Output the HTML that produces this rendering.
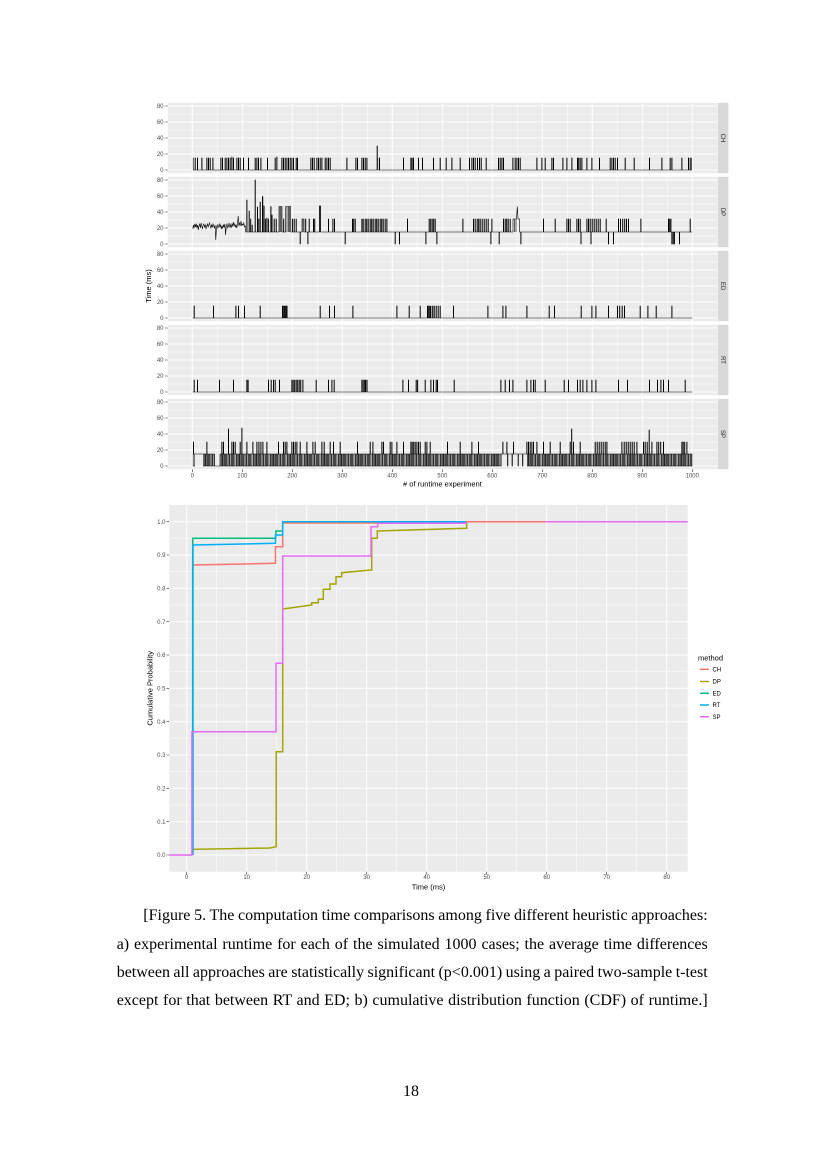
<!DOCTYPE html>
<html><head><meta charset="utf-8">
<style>
html,body{margin:0;padding:0;background:#fff;}
body{width:826px;height:1169px;position:relative;overflow:hidden;}
svg{position:absolute;left:0;top:0;}
.cap{position:absolute;font-family:"Liberation Serif","Times New Roman",serif;font-size:16px;line-height:20px;color:#000;text-align:justify;text-align-last:justify;word-spacing:-1.5px;}
</style></head>
<body>
<svg width="826" height="1169" viewBox="0 0 826 1169" xmlns="http://www.w3.org/2000/svg" font-family="Liberation Sans, Arial, sans-serif">
<defs>
<g id="tg">
<rect x="0" y="0" width="549.2" height="70.4" fill="#EBEBEB"/>
<path d="M49.5 0V70.4M99.5 0V70.4M149.5 0V70.4M199.5 0V70.4M249.5 0V70.4M299.5 0V70.4M349.5 0V70.4M399.5 0V70.4M449.5 0V70.4M499.5 0V70.4M0 59.2H549.2M0 43.2H549.2M0 27.2H549.2M0 11.2H549.2" stroke="#fff" stroke-width="0.5" fill="none"/>
<path d="M24.5 0V70.4M74.5 0V70.4M124.5 0V70.4M174.5 0V70.4M224.5 0V70.4M274.5 0V70.4M324.5 0V70.4M374.5 0V70.4M424.5 0V70.4M474.5 0V70.4M524.5 0V70.4M0 67.2H549.2M0 51.2H549.2M0 35.2H549.2M0 19.2H549.2M0 3.2H549.2" stroke="#fff" stroke-width="1" fill="none"/>
<path d="M-3 67.2H0M-3 51.2H0M-3 35.2H0M-3 19.2H0M-3 3.2H0" stroke="#333" stroke-width="0.6"/>
<g font-size="6" fill="#4D4D4D" text-anchor="end">
<text x="-4.3" y="69.3">0</text><text x="-4.3" y="53.3">20</text><text x="-4.3" y="37.3">40</text><text x="-4.3" y="21.3">60</text><text x="-4.3" y="5.3">80</text>
</g>
<rect x="549.8" y="0" width="10.8" height="70.4" fill="#D9D9D9"/>
</g>
<pattern id="vl" x="0" y="0" width="17" height="40" patternUnits="userSpaceOnUse">
<path d="M0.3 0V40M1.4 0V40M2.2 0V40M3.5 0V40M4.6 0V40M5.4 0V40M6.9 0V40M8.1 0V40M9 0V40M10.4 0V40M11.6 0V40M12.5 0V40M13.9 0V40M15.3 0V40M16.2 0V40" stroke="#000" stroke-width="0.7"/>
</pattern>
</defs>

<!-- TOP FACET CHART -->
<use href="#tg" x="167.8" y="102.8"/>
<use href="#tg" x="167.8" y="176.8"/>
<use href="#tg" x="167.8" y="250.8"/>
<use href="#tg" x="167.8" y="324.8"/>
<use href="#tg" x="167.8" y="398.8"/>

<g font-size="6" fill="#1A1A1A" text-anchor="middle">
<text transform="translate(720.9,138) rotate(90)">CH</text>
<text transform="translate(720.9,212) rotate(90)">DP</text>
<text transform="translate(720.9,286) rotate(90)">ED</text>
<text transform="translate(720.9,360) rotate(90)">RT</text>
<text transform="translate(720.9,434) rotate(90)">SP</text>
</g>

<path d="M192.3 469.2V472M242.3 469.2V472M292.3 469.2V472M342.3 469.2V472M392.3 469.2V472M442.3 469.2V472M492.3 469.2V472M542.3 469.2V472M592.3 469.2V472M642.3 469.2V472M692.3 469.2V472" stroke="#333" stroke-width="0.6"/>
<g font-size="6" fill="#4D4D4D" text-anchor="middle">
<text x="192.3" y="477.4">0</text><text x="242.3" y="477.4">100</text><text x="292.3" y="477.4">200</text><text x="342.3" y="477.4">300</text><text x="392.3" y="477.4">400</text><text x="442.3" y="477.4">500</text><text x="492.3" y="477.4">600</text><text x="542.3" y="477.4">700</text><text x="592.3" y="477.4">800</text><text x="642.3" y="477.4">900</text><text x="692.3" y="477.4">1000</text>
</g>
<text x="442.4" y="486.3" font-size="7.5" text-anchor="middle" fill="#000"># of runtime experiment</text>
<text transform="translate(150.8,286) rotate(-90)" font-size="7.5" text-anchor="middle" fill="#000">Time (ms)</text>

<g fill="none" stroke="#000" stroke-width="0.6">
<!-- CH -->
<path d="M192.8 158h0.4V170H195V158h0.4V170H197.3V158h0.4V170H201.7V158h0.4V170H206.7V158h0.4V170H208.3V158h0.4V170H210V158h0.4V170H212.7V158h0.4V170H220.7V158h0.4V170H222.3V158h0.4V170H225V158h0.4V170H226.7V158h0.4V170H228.3V158h0.4V170H230V158h0.4V170H231.7V157h0.4V170H233.3V158h0.4V170H236.7V158h0.4V170H238.3V158h0.4V170H240V158h0.4V170H243.3V158h0.4V170H248.3V158h0.4V170H255V158h0.4V170H256.7V158h0.4V170H258.3V158h0.4V170H260.7V158h0.4V170H267.3V158h0.4V170H275V158h0.4V170H276.7V157h0.4V170H281.7V158h0.4V170H283.3V158h0.4V170H285V158h0.4V170H286.7V158h0.4V170H288.3V158h0.4V170H290V158h0.4V170H291.7V158h0.4V170H293.3V158h0.4V170H296V158h0.4V170H297.3V158h0.4V170H310.7V158h0.4V170H312.3V158h0.4V170H314V158h0.4V170H316.7V158h0.4V170H318.3V158h0.4V170H320V158h0.4V170H321.7V158h0.4V170H325V158h0.4V170H326.7V158h0.4V170H328.3V158h0.4V170H330V158h0.4V170H346.7V158h0.4V170H355.7V158h0.4V170H357.3V158h0.4V170H361.7V158h0.4V170H363.3V158h0.4V170H365V158h0.4V170H366.7V158h0.4V170H377V146h0.4V158h0.4V170H379.3V158h0.4V170H403.3V158h0.4V170H410.7V158h0.4V170H411.9V158h0.4V170H413.3V158h0.4V170H418.3V158h0.4V170H422.3V158h0.4V170H433.3V158h0.4V170H440V158h0.4V170H446V158h0.4V170H451.7V158h0.4V170H460V158h0.4V170H469.3V158h0.4V170H471.7V158h0.4V170H473.3V158h0.4V170H475V158h0.4V170H477.3V158h0.4V170H479.3V158h0.4V170H481V158h0.4V170H486V158h0.4V170H498.3V158h0.4V170H500V158h0.4V170H501.7V158h0.4V170H503.3V158h0.4V170H512.7V158h0.4V170H515V158h0.4V170H516.7V158h0.4V170H518.3V158h0.4V170H520V158h0.4V170H536.7V158h0.4V170H541.7V158h0.4V170H545V158h0.4V170H551.7V158h0.4V170H553.3V158h0.4V170H562.7V158h0.4V170H566.7V158h0.4V170H571.7V158h0.4V170H577.3V158h0.4V170H578.5V158h0.4V170H580V158h0.4V170H581.7V158h0.4V170H586.7V158h0.4V170H591.7V158h0.4V170H599.3V158h0.4V170H610V158h0.4V170H611.7V158h0.4V170H613.3V158h0.4V170H615V158h0.4V170H617.3V158h0.4V170H625V158h0.4V170H634V158h0.4V170H649.3V158h0.4V170H661.7V158h0.4V170H670V158h0.4V170H671.7V158h0.4V170H681.7V158h0.4V170H688.3V158h0.4V170H690V158h0.4V170H691.6V158h0.4"/>
<!-- DP -->
<path d="M192.8 229L193.4 225L194.1 228L194.8 224L195.5 227L196.2 223.5L196.9 228L197.6 225L198.3 230L199 226L199.7 224L200.4 228L201.1 223L201.8 226L202.5 229L203.2 225L203.9 224L204.6 227L205.3 225L206 229L206.7 226L207.4 224L208.1 227L208.8 225L209.5 223L210.2 226L210.9 228L211.6 225L212.3 227L213 224L213.7 226L214.4 228L215.1 225L215.8 240L216.5 227L217.2 225L217.9 228L218.6 226L219.3 224L220 227L220.7 225L221.4 229L222.1 226L222.8 228L223.5 225L224.2 227L224.9 224L225.6 235L226.3 226L227 224L227.7 228L228.4 226L229.1 223L229.8 227L230.5 225L231.2 228L231.9 224L232.6 226L233.3 222L234 226L234.7 224L235.4 227L236.1 225L236.8 228L237.5 224L238.2 216L238.9 226L239.6 223L240.3 225L241 221L241.7 226L242.4 224L243.1 225L243.8 223L244.5 227L245.2 226L245.8 232H246.7V200h0.4V232H249V211h0.4V232H250.5V219h0.4V232H252V225h0.4V232H255V180h0.4V232H257.3V207h0.4V232H258.6V219h0.4V232H260V202h0.4V232H262.3V196.5h0.6V232H263.8V206h0.4V232H265.2V219h0.4V232H266.7V218h0.4V232H268.2V219h0.4V232H270.7V206.5h0.4V232H271.8V215h0.4V232H274V219h0.4V232H276V219h0.4V232H279V206.5H282V232H283.5V219h0.4V232H285.7V206.5H290.7V232H292.2V219h0.4V232H294V219h0.4V232H296V219h0.4V232H300V244h0.4V232H302V219H304V232H305.5V219h0.4V232H307.7V244h0.4V232H309V219h0.4V232H313.3V219h0.4V232H314.5V219h0.4V232H319.3V206H320.7V232H328.3V219h0.4V232H332.7V219h0.4V232H334.3V219h0.4V232H345V244h0.4V232H352.3V219h0.4V232H353.5V219h0.4V232H355V219h0.4V232H361.7V219h0.4V232H363V219h0.4V232H365V219h0.4V232H366.5V219h0.4V232H368V219h0.4V232H370V219h0.4V232H371.5V219h0.4V232H373V219h0.4V232H375V219h0.4V232H376.5V219h0.4V232H378V219h0.4V232H380V219h0.4V232H381.5V219h0.4V232H383V219h0.4V232H385V219h0.4V232H386.7V219h0.4V232H395V244h0.4V232H399.3V244h0.4V232H407.3V219h0.4V232H425.7V244h0.4V232H429V219h0.4V232H430.5V219h0.4V232H432V219h0.4V232H433.5V219h0.4V232H435V219h0.4V232H436.7V244h0.4V232H462.7V219h0.4V232H473.3V219h0.4V232H475V219h0.4V232H477V219h0.4V232H478.5V219h0.4V232H480V219h0.4V232H482V219h0.4V232H484V219h0.4V232H486V219h0.4V232H488V219h0.4V232H490.7V244h0.4V232H491.7V219h0.4V232H499V244h0.4V232H503.3V219h0.4V232H505V219h0.4V232H506.5V219h0.4V232H508V219h0.4V232H510V219h0.4V232H513V219H516.5L517.3 206.5L518 219H519.5V232H520.7V244h0.4V232H543.3V219h0.4V232H555V219h0.4V232H566.7V219h0.4V232H568.3V219h0.4V232H570V219h0.4V232H576.7V219h0.4V232H578.3V219h0.4V232H580V219h0.4V232H580.8V244h0.4V232H586.7V219h0.4V232H588.3V219h0.4V232H590V219h0.4V232H590.8V244h0.4V232H592V219h0.4V232H594V219h0.4V232H596V219h0.4V232H598V219h0.4V232H600V219h0.4V232H606V219h0.4V232H608.3V244h0.4V232H613.3V244h0.4V232H618.3V219h0.4V232H620.3V219h0.4V232H622.5V219h0.4V232H624.5V219h0.4V232H626.3V219h0.4V232H628.3V219h0.4V232H640.7V219h0.4V232H668.3V219h0.4V232H669.5V219h0.4V232H670.7V219h0.4V232H671.7V244h0.4V232H673V244h0.4V232H674.2V244h0.4V232H679.3V244h0.4V232H690V219h0.4V232H692.3"/>
<path d="M280 232V206.5M281 232V206.5M287 232V206.5M288.5 232V206.5M289.7 232V206.5M303 232V219M320 232V206M514.5 232V219M516 232V219"/>
<!-- ED -->
<path d="M192.8 318H194V306h0.4V318H213.3V306h0.4V318H235.7V306h0.4V318H238.3V306h0.4V318H244.3V306h0.4V318H260V306h0.4V318H282.3V306h0.4V318H283.5V306h0.4V318H284.6V306h0.4V318H285.7V306h0.4V318H286.8V306h0.4V318H320V306h0.4V318H329.3V306h0.4V318H334.3V306h0.4V318H352.7V306h0.4V318H396.7V306h0.4V318H409V306h0.4V318H420V306h0.4V318H427.3V306h0.4V318H428.5V306h0.4V318H429.7V306h0.4V318H430.6V306h0.4V318H432.5V306h0.4V318H434V306h0.4V318H436V306h0.4V318H438V306h0.4V318H440V306h0.4V318H453.3V306h0.4V318H487.7V306h0.4V318H502.7V306h0.4V318H505.7V306h0.4V318H526.7V306h0.4V318H549V306h0.4V318H554.3V306h0.4V318H581V306h0.4V318H591.7V306h0.4V318H595.7V306h0.4V318H608.3V306h0.4V318H617.3V306h0.4V318H619.5V306h0.4V318H622V306h0.4V318H624.3V306h0.4V318H640V306h0.4V318H647.7V306h0.4V318H656V306h0.4V318H671.7V306h0.4V318H692.3"/>
<!-- RT -->
<path d="M192.8 392H194V380h0.4V392H197.3V380h0.4V392H219.3V380h0.4V392H233.3V380h0.4V392H246.7V380h0.4V392H247.9V380h0.4V392H268.3V380h0.4V392H271V380h0.4V392H273.3V380h0.4V392H275V380h0.4V392H279.3V380h0.4V392H291.7V380h0.4V392H293V380h0.4V392H294.5V380h0.4V392H296V380h0.4V392H297.5V380h0.4V392H299V380h0.4V392H300.5V380h0.4V392H302.7V380h0.4V392H316V380h0.4V392H328.3V380h0.4V392H331.7V380h0.4V392H334V380h0.4V392H361.7V380h0.4V392H363V380h0.4V392H364.5V380h0.4V392H365.4V380h0.4V392H366.8V380h0.4V392H402.7V380h0.4V392H408.3V380h0.4V392H416V380h0.4V392H417.4V380h0.4V392H425V380h0.4V392H430.7V380h0.4V392H433.3V380h0.4V392H436V380h0.4V392H437.3V380h0.4V392H454V380h0.4V392H500.7V380h0.4V392H505V380h0.4V392H509.3V380h0.4V392H512.7V380h0.4V392H526.7V380h0.4V392H530.7V380h0.4V392H533.3V380h0.4V392H535V380h0.4V392H545V380h0.4V392H564V380h0.4V392H568.3V380h0.4V392H577.3V380h0.4V392H580V380h0.4V392H582.7V380h0.4V392H586.7V380h0.4V392H591.7V380h0.4V392H595.7V380h0.4V392H618.3V380h0.4V392H627.3V380h0.4V392H649.3V380h0.4V392H657.3V380h0.4V392H660.7V380h0.4V392H663.3V380h0.4V392H668.3V380h0.4V392H685V380h0.4V392H692.3"/>
</g>
<!-- SP -->
<rect x="192.8" y="454" width="2.2" height="12" fill="url(#vl)"/>
<rect x="203" y="454" width="11.5" height="12" fill="url(#vl)"/>
<rect x="220" y="454" width="281.5" height="12" fill="url(#vl)"/>
<rect x="527" y="454" width="165.3" height="12" fill="url(#vl)"/>
<path d="M192.8 454H214.5M220 454H692.3M192.8 466H195M203 466H501.5M527 466H692.3M214.5 454V466M220 454V466M507.5 454V466h0.4V454M512 454V466h0.4V454M518 454V466h0.4V454M522.5 454V466h0.4V454" fill="none" stroke="#000" stroke-width="0.6"/>
<path fill="none" stroke="#000" stroke-width="0.6" d="M193.3 454V442h0.4V454M206.7 454V442h0.4V454M221.7 454V442h0.4V454M223.3 454V442h0.4V454M228.3 454V429h0.4V454M231.7 454V442h0.4V454M233.3 454V442h0.4V454M235 454V442h0.4V454M240 454V442h0.4V454M241.7 454V428h0.4V454M246.7 454V442h0.4V454M252.7 454V442h0.4V454M256.7 454V442h0.4V454M258.7 454V442h0.4V454M260.7 454V442h0.4V454M262.7 454V442h0.4V454M266.7 454V442h0.4V454M278.3 454V442h0.4V454M283.3 454V442h0.4V454M285 454V442h0.4V454M286.7 454V442h0.4V454M291.7 454V442h0.4V454M293.3 454V442h0.4V454M295 454V442h0.4V454M296.7 454V442h0.4V454M300 454V442h0.4V454M306.7 454V442h0.4V454M312.7 454V442h0.4V454M315 454V442h0.4V454M321.7 454V442h0.4V454M324 454V442h0.4V454M330 454V442h0.4V454M333.3 454V442h0.4V454M340 454V442h0.4V454M357.3 454V442h0.4V454M370 454V442h0.4V454M372.7 454V442h0.4V454M381.7 454V442h0.4V454M383.3 454V442h0.4V454M390 454V442h0.4V454M391.7 454V442h0.4V454M396.7 454V442h0.4V454M403.3 454V442h0.4V454M410.7 454V442h0.4V454M412 454V442h0.4V454M413.5 454V442h0.4V454M415 454V442h0.4V454M416.7 454V442h0.4V454M418.3 454V442h0.4V454M420 454V442h0.4V454M425 454V442h0.4V454M426.7 454V442h0.4V454M430 454V442h0.4V454M447.3 454V442h0.4V454M460 454V442h0.4V454M471.7 454V442h0.4V454M478.3 454V442h0.4V454M502.7 454V442h0.4V454M506.7 454V442h0.4V454M513.3 454V442h0.4V454M526.7 454V442h0.4V454M528.3 454V442h0.4V454M530 454V442h0.4V454M531.7 454V442h0.4V454M533.3 454V442h0.4V454M536.7 454V442h0.4V454M543.3 454V442h0.4V454M550 454V442h0.4V454M560 454V442h0.4V454M570 454V442h0.4V454M571.5 454V429h0.4V454M573.3 454V442h0.4V454M580 454V442h0.4V454M595 454V442h0.4V454M597 454V442h0.4V454M599 454V442h0.4V454M601 454V442h0.4V454M603 454V442h0.4V454M605 454V442h0.4V454M606.7 454V442h0.4V454M621.7 454V442h0.4V454M624 454V442h0.4V454M626 454V442h0.4V454M628 454V442h0.4V454M630 454V442h0.4V454M632 454V442h0.4V454M634 454V442h0.4V454M636.7 454V442h0.4V454M643.3 454V442h0.4V454M645 454V442h0.4V454M647 454V442h0.4V454M649 454V430h0.4V454M651.7 454V442h0.4V454M656.7 454V442h0.4V454M658.5 454V442h0.4V454M660.5 454V442h0.4V454M663.3 454V442h0.4V454M681.7 454V442h0.4V454M683 454V442h0.4V454M684.5 454V442h0.4V454M686.7 454V442h0.4V454"/>

<!-- CDF CHART -->
<rect x="169.3" y="505" width="518.4" height="366.7" fill="#EBEBEB"/>
<path d="M216.7 505V871.7M276.7 505V871.7M336.7 505V871.7M396.7 505V871.7M456.7 505V871.7M516.7 505V871.7M576.7 505V871.7M636.7 505V871.7M169.3 838.3H687.7M169.3 805H687.7M169.3 771.7H687.7M169.3 738.3H687.7M169.3 705H687.7M169.3 671.7H687.7M169.3 638.3H687.7M169.3 605H687.7M169.3 571.7H687.7M169.3 538.3H687.7" stroke="#fff" stroke-width="0.5" fill="none"/>
<path d="M186.7 505V871.7M246.7 505V871.7M306.7 505V871.7M366.7 505V871.7M426.7 505V871.7M486.7 505V871.7M546.7 505V871.7M606.7 505V871.7M666.7 505V871.7M169.3 855H687.7M169.3 821.7H687.7M169.3 788.3H687.7M169.3 755H687.7M169.3 721.7H687.7M169.3 688.3H687.7M169.3 655H687.7M169.3 621.7H687.7M169.3 588.3H687.7M169.3 555H687.7M169.3 521.7H687.7" stroke="#fff" stroke-width="1" fill="none"/>
<path d="M166.5 855H169.3M166.5 821.7H169.3M166.5 788.3H169.3M166.5 755H169.3M166.5 721.7H169.3M166.5 688.3H169.3M166.5 655H169.3M166.5 621.7H169.3M166.5 588.3H169.3M166.5 555H169.3M166.5 521.7H169.3M186.7 871.7V874.5M246.7 871.7V874.5M306.7 871.7V874.5M366.7 871.7V874.5M426.7 871.7V874.5M486.7 871.7V874.5M546.7 871.7V874.5M606.7 871.7V874.5M666.7 871.7V874.5" stroke="#333" stroke-width="0.6"/>
<g font-size="6" fill="#4D4D4D" text-anchor="end">
<text x="165.5" y="857.1">0.0</text><text x="165.5" y="823.8">0.1</text><text x="165.5" y="790.4">0.2</text><text x="165.5" y="757.1">0.3</text><text x="165.5" y="723.8">0.4</text><text x="165.5" y="690.4">0.5</text><text x="165.5" y="657.1">0.6</text><text x="165.5" y="623.8">0.7</text><text x="165.5" y="590.4">0.8</text><text x="165.5" y="557.1">0.9</text><text x="165.5" y="523.8">1.0</text>
</g>
<g font-size="6" fill="#4D4D4D" text-anchor="middle">
<text x="186.7" y="879">0</text><text x="246.7" y="879">10</text><text x="306.7" y="879">20</text><text x="366.7" y="879">30</text><text x="426.7" y="879">40</text><text x="486.7" y="879">50</text><text x="546.7" y="879">60</text><text x="606.7" y="879">70</text><text x="666.7" y="879">80</text>
</g>
<text x="428.5" y="889.3" font-size="7.5" text-anchor="middle" fill="#000">Time (ms)</text>
<text transform="translate(152.3,688.3) rotate(-90)" font-size="7.5" text-anchor="middle" fill="#000">Cumulative Probability</text>

<g fill="none" stroke-width="1.5">
<path stroke="#F8766D" d="M192.7 855V565L275.5 563.3V546.7H282.7V523H466"/>
<path stroke="#A3A500" d="M192.7 855V849.3L270 848L276.2 846.7V751.7H282.7V609L311.7 605V602.7H318.3V599.3H323.3V589.3H330V584H336V576.7H341.7V572.7L371.7 570V538.3H377.3V531L466.7 528.3V521.7H470"/>
<path stroke="#00BF7D" d="M192.7 855V538.3H275.8V531H282.7V521.7H400"/>
<path stroke="#00B0F6" d="M193 855V545L275.5 543.3V535H282.7V521.7H466"/>
<path stroke="#E76BF3" d="M169.3 855H191.9V731.7H276V663.3H282.7V556H371V526.7H377.7V523.3H466V521.7H687.7"/>
<path stroke="#F8766D" d="M466 521.7H545"/>
</g>

<text x="698" y="660.5" font-size="7.5" fill="#000">method</text>
<g stroke-width="1.5">
<path d="M700 669.3H709" stroke="#F8766D"/>
<path d="M700 681.5H709" stroke="#A3A500"/>
<path d="M700 693.3H709" stroke="#00BF7D"/>
<path d="M700 705H709" stroke="#00B0F6"/>
<path d="M700 716.7H709" stroke="#E76BF3"/>
</g>
<g font-size="6" fill="#000">
<text x="712.5" y="671.4">CH</text>
<text x="712.5" y="683.6">DP</text>
<text x="712.5" y="695.4">ED</text>
<text x="712.5" y="707.1">RT</text>
<text x="712.5" y="718.8">SP</text>
</g>
</svg>

<div class="cap" style="left:143.3px;top:906.3px;width:564.4px;">[Figure 5. The computation time comparisons among five different heuristic approaches:</div>
<div class="cap" style="left:116.7px;top:934.6px;width:591px;">a) experimental runtime for each of the simulated 1000 cases; the average time differences</div>
<div class="cap" style="left:116.7px;top:962.9px;width:591px;">between all approaches are statistically significant (p&lt;0.001) using a paired two-sample t-test</div>
<div class="cap" style="left:116.7px;top:991.3px;width:591px;">except for that between RT and ED; b) cumulative distribution function (CDF) of runtime.]</div>
<div style="position:absolute;left:395px;top:1081.6px;width:32px;text-align:center;font-family:'Liberation Serif',serif;font-size:16px;line-height:20px;color:#000;">18</div>
</body></html>
